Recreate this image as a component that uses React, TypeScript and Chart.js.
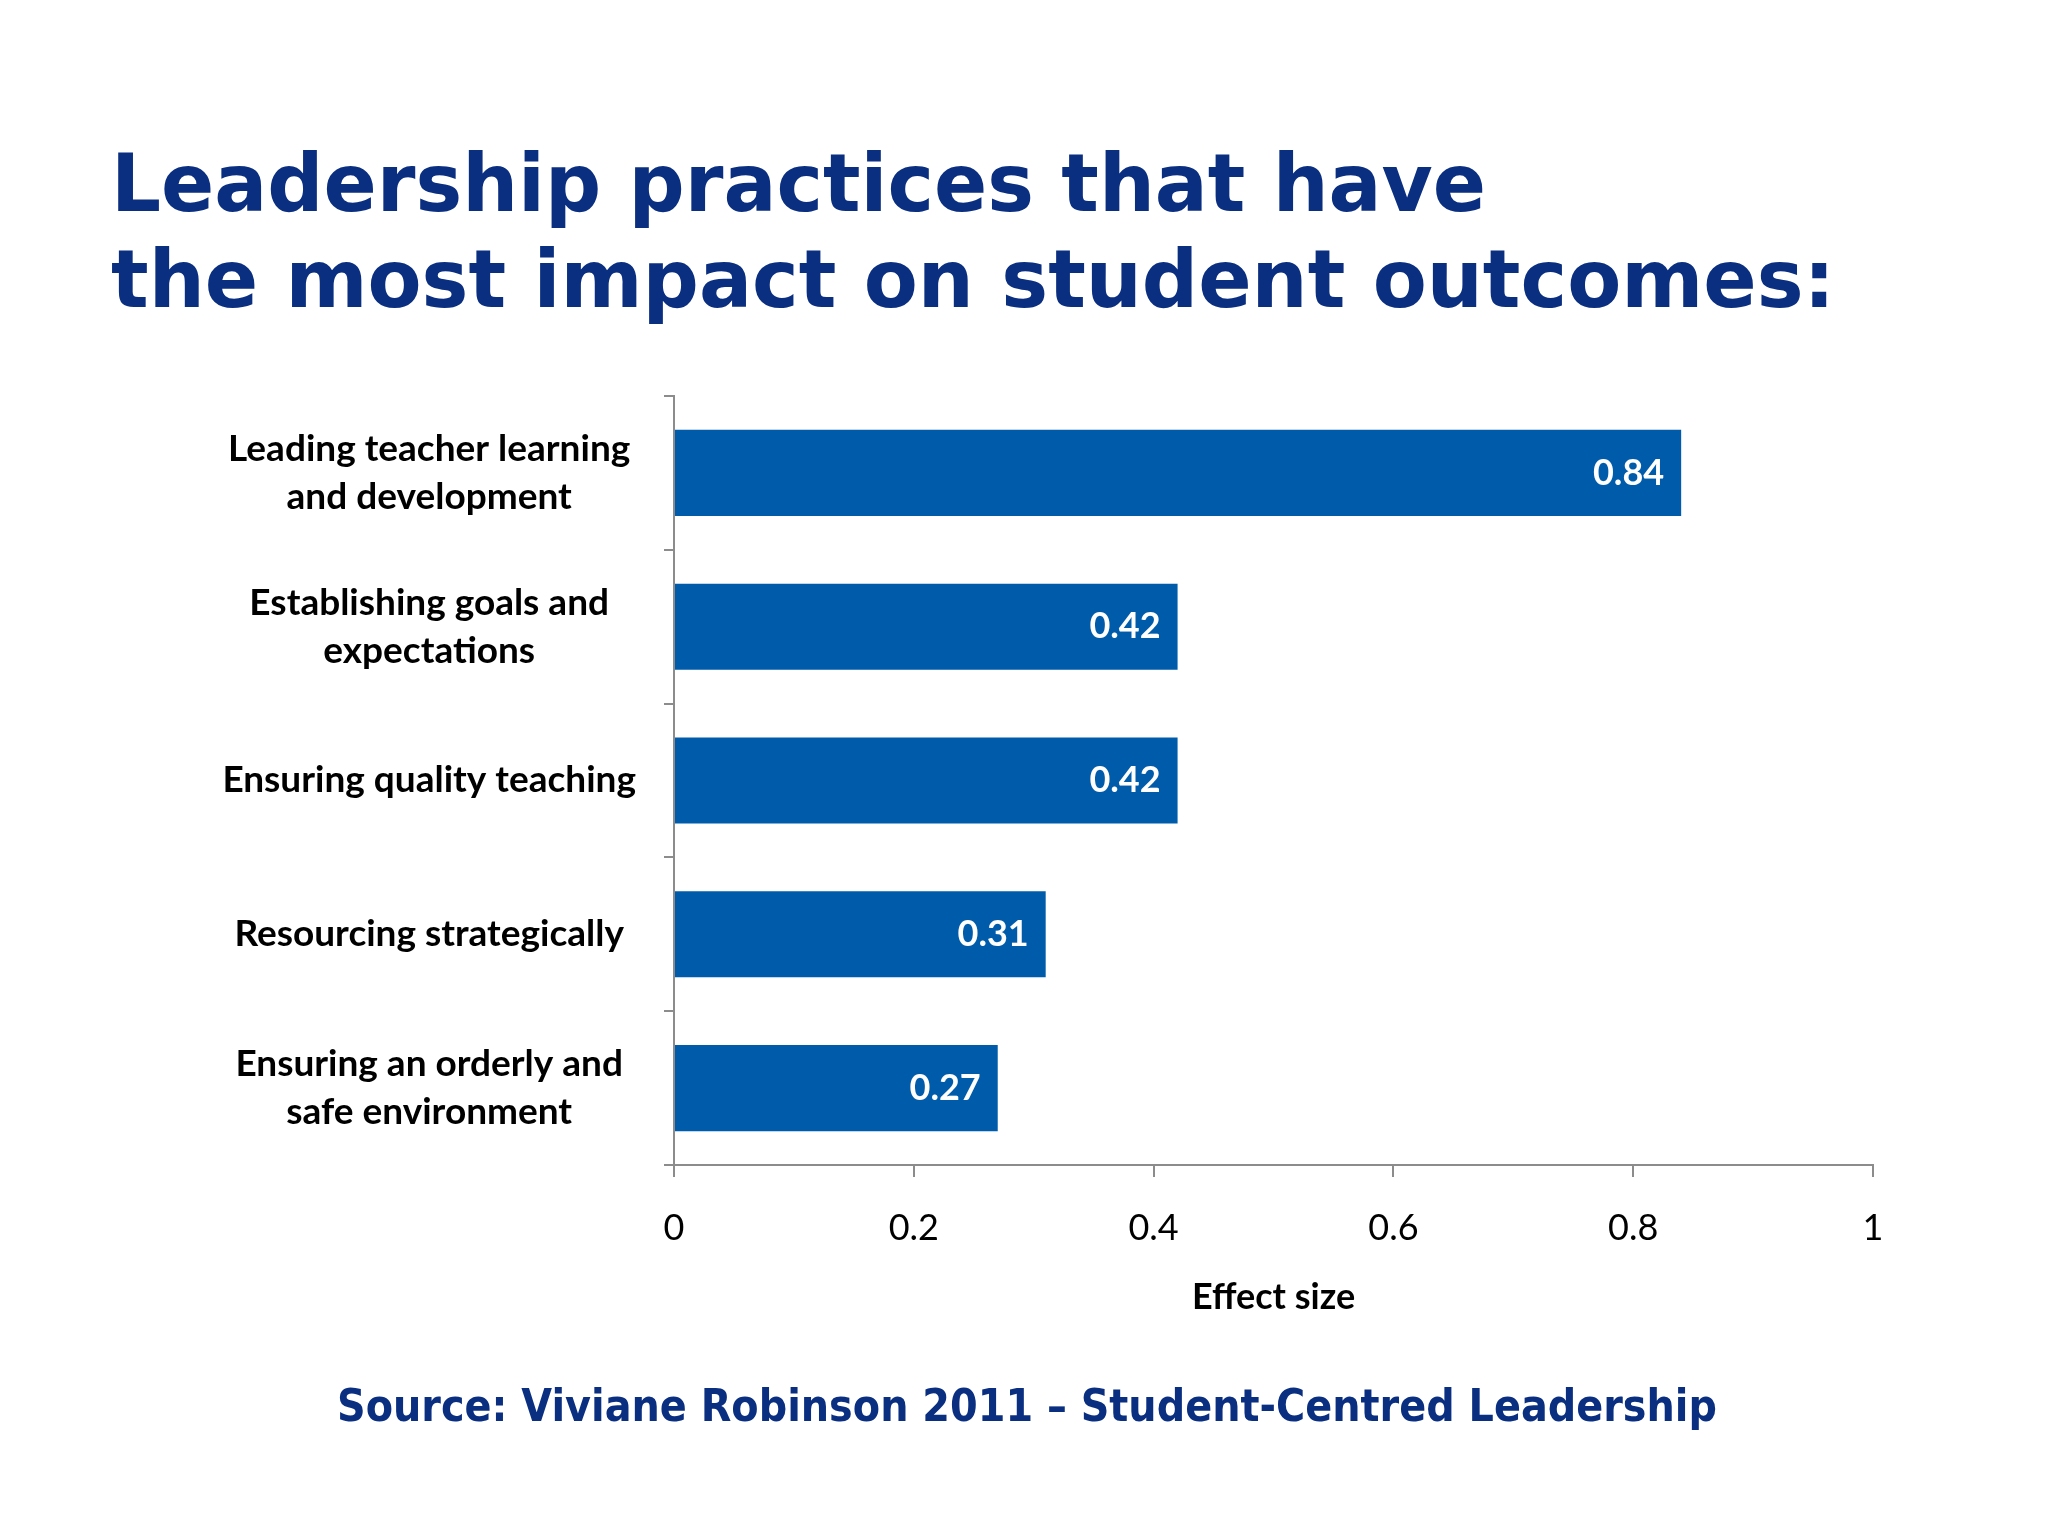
import { useEffect, useRef } from "react";
import { Chart, registerables } from "chart.js";

Chart.register(...registerables);

// Slide text
const TITLE_LINES = ["Leadership practices that have", "the most impact on student outcomes:"];
const SOURCE_TEXT = "Source: Viviane Robinson 2011 \u2013 Student-Centred Leadership";
const AXIS_TITLE = "Effect size";

// Chart data
const CATEGORIES: (string | string[])[] = [
  ["Leading teacher learning", "and development"],
  ["Establishing goals and", "expectations"],
  "Ensuring quality teaching",
  "Resourcing strategically",
  ["Ensuring an orderly and", "safe environment"],
];
const EFFECT_SIZES = [0.84, 0.42, 0.42, 0.31, 0.27];
const X_TICKS = [0, 0.2, 0.4, 0.6, 0.8, 1];

const NAVY = "#0B2F80";
const BAR_BLUE = "#005CAB";
const AXIS_GREY = "#8C8C8C";
const LABEL_FONT = "Lato";

function drawFitted(
  ctx: CanvasRenderingContext2D,
  text: string,
  x: number,
  y: number,
  width: number,
  font: string,
  color: string
) {
  ctx.save();
  ctx.font = font;
  ctx.fillStyle = color;
  ctx.textAlign = "left";
  ctx.textBaseline = "alphabetic";
  const w = ctx.measureText(text).width;
  ctx.translate(x, y);
  ctx.scale(width / w, 1);
  ctx.fillText(text, 0, 0);
  ctx.restore();
}

// Background, heading and source line
const slidePlugin = {
  id: "slide",
  beforeDraw(chart: any) {
    const ctx = chart.ctx as CanvasRenderingContext2D;
    ctx.save();
    ctx.fillStyle = "#ffffff";
    ctx.fillRect(0, 0, chart.width, chart.height);
    ctx.restore();
    drawFitted(ctx, TITLE_LINES[0], 111, 211, 1375, 'bold 80px "DejaVu Sans"', NAVY);
    drawFitted(ctx, TITLE_LINES[1], 111, 307, 1724, 'bold 80px "DejaVu Sans"', NAVY);
    drawFitted(ctx, SOURCE_TEXT, 337, 1421, 1380, 'bold 44px "DejaVu Sans"', NAVY);
  },
};

// White value labels inside the end of each bar
const valueLabelPlugin = {
  id: "valueLabels",
  afterDatasetsDraw(chart: any) {
    const ctx = chart.ctx as CanvasRenderingContext2D;
    const meta = chart.getDatasetMeta(0);
    ctx.save();
    ctx.font = `bold 36px ${LABEL_FONT}`;
    ctx.fillStyle = "#ffffff";
    ctx.textAlign = "right";
    ctx.textBaseline = "middle";
    meta.data.forEach((bar: any, i: number) => {
      const { x, y } = bar.getProps(["x", "y"], true);
      ctx.fillText(EFFECT_SIZES[i].toFixed(2), x - 17, y);
    });
    ctx.restore();
  },
};

export default function App() {
  const canvasRef = useRef<HTMLCanvasElement | null>(null);

  useEffect(() => {
    if (!canvasRef.current) return;
    const chart = new Chart(canvasRef.current, {
      type: "bar",
      data: {
        labels: CATEGORIES,
        datasets: [
          {
            data: EFFECT_SIZES,
            backgroundColor: BAR_BLUE,
            borderWidth: 0,
            barPercentage: 0.56,
            categoryPercentage: 1,
          },
        ],
      },
      options: {
        indexAxis: "y",
        animation: false,
        responsive: false,
        maintainAspectRatio: false,
        layout: { padding: { left: 0, top: 396, right: 175, bottom: 217 } },
        plugins: {
          legend: { display: false },
          tooltip: { enabled: false },
          title: { display: false },
        },
        scales: {
          x: {
            min: 0,
            max: 1,
            afterBuildTicks: (scale: any) => {
              scale.ticks = X_TICKS.map((v) => ({ value: v }));
            },
            afterFit: (scale: any) => {
              scale.height = 154;
            },
            grid: {
              drawOnChartArea: false,
              drawTicks: true,
              tickLength: 12,
              color: AXIS_GREY,
              lineWidth: 2,
            },
            border: { display: true, color: AXIS_GREY, width: 2 },
            ticks: {
              padding: 30,
              color: "#000000",
              font: { family: LABEL_FONT, size: 36 },
              maxRotation: 0,
              callback: (v: any) => String(Number(Number(v).toFixed(1))),
            },
            title: {
              display: true,
              text: AXIS_TITLE,
              color: "#000000",
              font: { family: LABEL_FONT, size: 36, weight: "bold" },
              padding: { top: 24, bottom: 0 },
            },
          },
          y: {
            afterFit: (scale: any) => {
              scale.width = 674;
            },
            grid: {
              drawOnChartArea: false,
              drawTicks: true,
              tickLength: 10,
              color: AXIS_GREY,
              lineWidth: 2,
            },
            border: { display: true, color: AXIS_GREY, width: 2 },
            ticks: {
              padding: 28,
              crossAlign: "center",
              color: "#000000",
              font: { family: LABEL_FONT, size: 37, weight: "bold", lineHeight: 1.3 },
            },
          },
        },
      },
      plugins: [slidePlugin, valueLabelPlugin],
    });
    return () => chart.destroy();
  }, []);

  return (
    <div style={{ position: "absolute", left: 0, top: 0, width: 2048, height: 1536 }}>
      <canvas ref={canvasRef} width={2048} height={1536} style={{ width: 2048, height: 1536, display: "block" }} />
    </div>
  );
}
